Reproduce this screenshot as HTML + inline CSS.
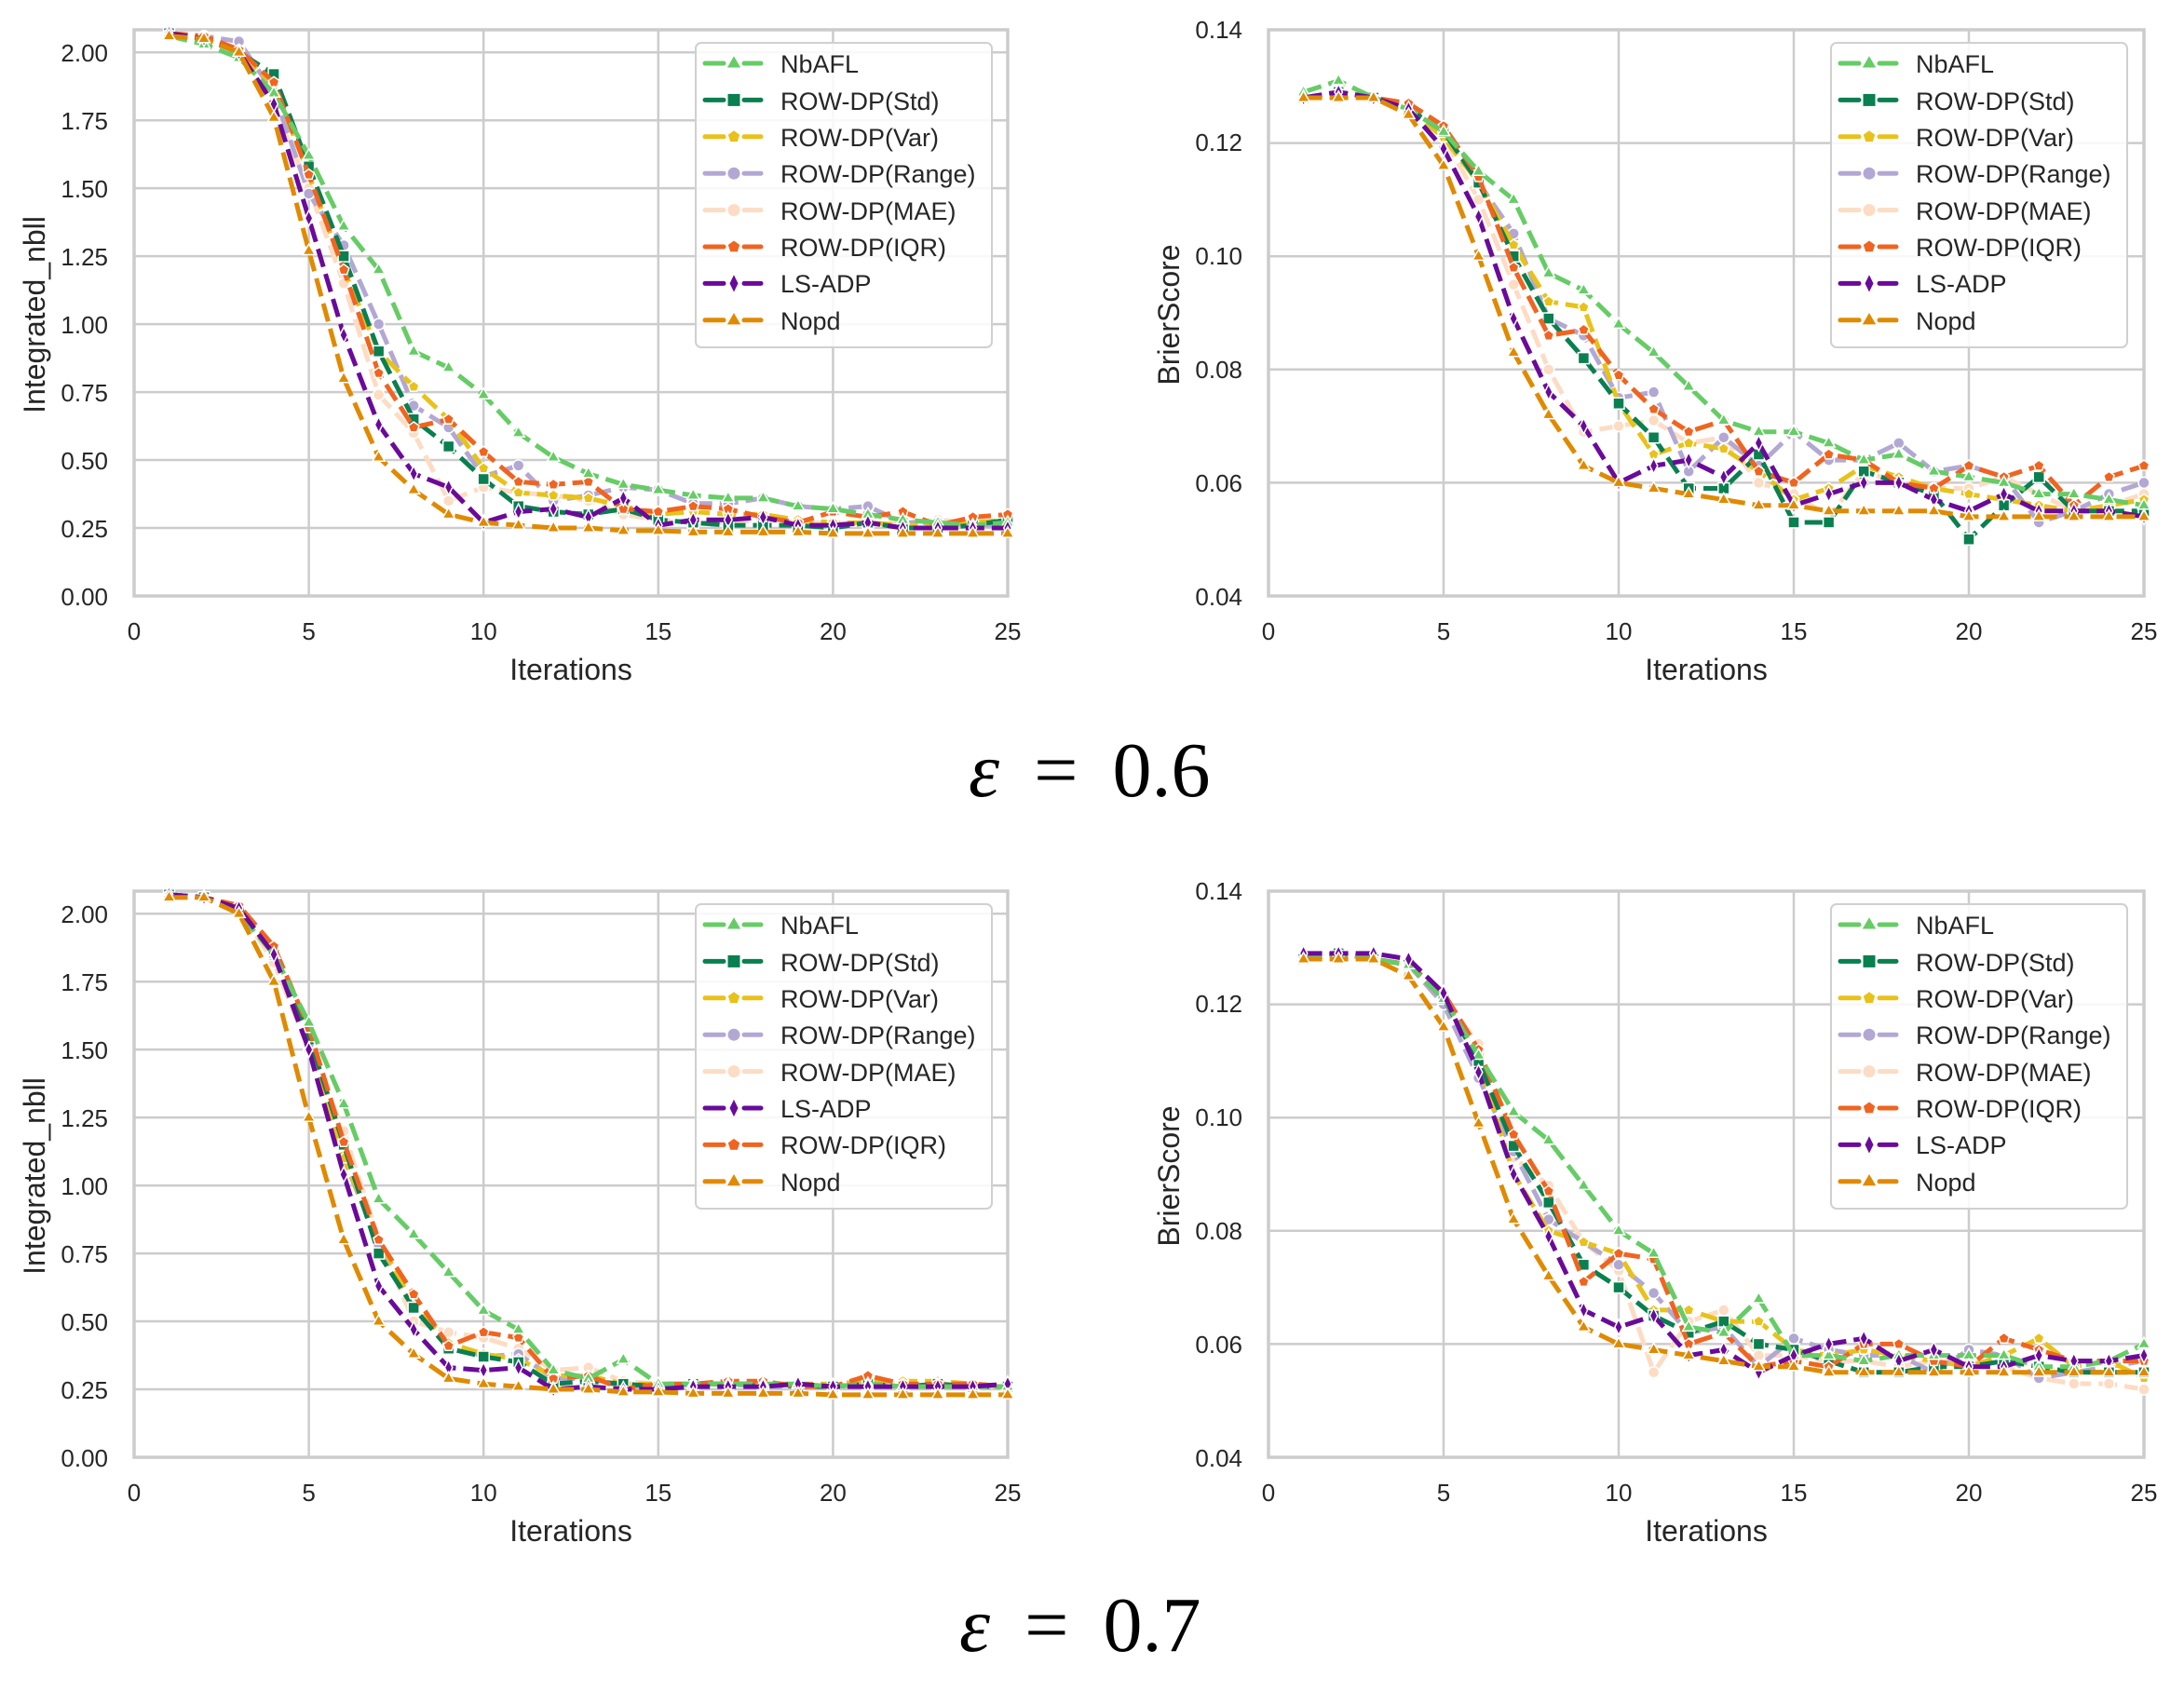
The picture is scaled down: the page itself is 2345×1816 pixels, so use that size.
<!DOCTYPE html>
<html><head><meta charset="utf-8"><style>
html,body{margin:0;padding:0;background:#fff;}
svg{display:block;}
.t{font-family:"Liberation Sans",Arial,sans-serif;fill:#262626;}
.tk{font-size:26px;}
.lg{font-size:27px;}
.al{font-size:32px;}
.eps{font-family:"Liberation Serif","DejaVu Serif",serif;font-size:84px;fill:#000;word-spacing:16px;}
</style></head><body>
<svg id="s" width="2345" height="1816" viewBox="0 0 2345 1816" xmlns="http://www.w3.org/2000/svg">
<rect width="2345" height="1816" fill="#fff"/>
<g id="grids"></g>
<g id="series"></g>
<g id="legends"></g>
<g class="t tk" text-anchor="end">
<text x="116" y="650">0.00</text><text x="116" y="577">0.25</text><text x="116" y="504">0.50</text><text x="116" y="431">0.75</text><text x="116" y="358">1.00</text><text x="116" y="285">1.25</text><text x="116" y="212">1.50</text><text x="116" y="139">1.75</text><text x="116" y="66">2.00</text>
<text x="116" y="1575">0.00</text><text x="116" y="1502">0.25</text><text x="116" y="1429">0.50</text><text x="116" y="1356">0.75</text><text x="116" y="1283">1.00</text><text x="116" y="1210">1.25</text><text x="116" y="1137">1.50</text><text x="116" y="1064">1.75</text><text x="116" y="991">2.00</text>
<text x="1334" y="650">0.04</text><text x="1334" y="528">0.06</text><text x="1334" y="406">0.08</text><text x="1334" y="284">0.10</text><text x="1334" y="162">0.12</text><text x="1334" y="41">0.14</text>
<text x="1334" y="1575">0.04</text><text x="1334" y="1453">0.06</text><text x="1334" y="1331">0.08</text><text x="1334" y="1209">0.10</text><text x="1334" y="1087">0.12</text><text x="1334" y="966">0.14</text>
</g>
<g class="t tk" text-anchor="middle">
<text x="144" y="687">0</text><text x="331.6" y="687">5</text><text x="519.2" y="687">10</text><text x="706.8" y="687">15</text><text x="894.4" y="687">20</text><text x="1082" y="687">25</text>
<text x="1362" y="687">0</text><text x="1550" y="687">5</text><text x="1738" y="687">10</text><text x="1926" y="687">15</text><text x="2114" y="687">20</text><text x="2302" y="687">25</text>
<text x="144" y="1612">0</text><text x="331.6" y="1612">5</text><text x="519.2" y="1612">10</text><text x="706.8" y="1612">15</text><text x="894.4" y="1612">20</text><text x="1082" y="1612">25</text>
<text x="1362" y="1612">0</text><text x="1550" y="1612">5</text><text x="1738" y="1612">10</text><text x="1926" y="1612">15</text><text x="2114" y="1612">20</text><text x="2302" y="1612">25</text>
</g>
<g class="t al" text-anchor="middle">
<text x="613" y="730">Iterations</text><text x="1832" y="730">Iterations</text>
<text x="613" y="1655">Iterations</text><text x="1832" y="1655">Iterations</text>
<text transform="translate(48,338) rotate(-90)">Integrated_nbll</text>
<text transform="translate(1266,338) rotate(-90)">BrierScore</text>
<text transform="translate(48,1263) rotate(-90)">Integrated_nbll</text>
<text transform="translate(1266,1263) rotate(-90)">BrierScore</text>
</g>
<text class="eps" x="1040" y="855"><tspan font-style="italic">ε</tspan> = 0.6</text>
<text class="eps" x="1030" y="1773"><tspan font-style="italic">ε</tspan> = 0.7</text>
<g id="legtext" class="t lg">
<text x="838" y="78">NbAFL</text><text x="838" y="118">ROW-DP(Std)</text><text x="838" y="157">ROW-DP(Var)</text><text x="838" y="196">ROW-DP(Range)</text><text x="838" y="236">ROW-DP(MAE)</text><text x="838" y="275">ROW-DP(IQR)</text><text x="838" y="314">LS-ADP</text><text x="838" y="354">Nopd</text>
<text x="2057" y="78">NbAFL</text><text x="2057" y="118">ROW-DP(Std)</text><text x="2057" y="157">ROW-DP(Var)</text><text x="2057" y="196">ROW-DP(Range)</text><text x="2057" y="236">ROW-DP(MAE)</text><text x="2057" y="275">ROW-DP(IQR)</text><text x="2057" y="314">LS-ADP</text><text x="2057" y="354">Nopd</text>
<text x="838" y="1003">NbAFL</text><text x="838" y="1043">ROW-DP(Std)</text><text x="838" y="1082">ROW-DP(Var)</text><text x="838" y="1121">ROW-DP(Range)</text><text x="838" y="1161">ROW-DP(MAE)</text><text x="838" y="1200">LS-ADP</text><text x="838" y="1239">ROW-DP(IQR)</text><text x="838" y="1279">Nopd</text>
<text x="2057" y="1003">NbAFL</text><text x="2057" y="1043">ROW-DP(Std)</text><text x="2057" y="1082">ROW-DP(Var)</text><text x="2057" y="1121">ROW-DP(Range)</text><text x="2057" y="1161">ROW-DP(MAE)</text><text x="2057" y="1200">ROW-DP(IQR)</text><text x="2057" y="1239">LS-ADP</text><text x="2057" y="1279">Nopd</text>
</g>
</svg>
<script>
(function(){
var NS="http://www.w3.org/2000/svg";
function el(p,n,a){var e=document.createElementNS(NS,n);for(var k in a)e.setAttribute(k,a[k]);p.appendChild(e);return e;}
var C={nb:"#66cc66",std:"#0a7f50",var:"#e8c21a",rng:"#b3a8d3",mae:"#fddcc4",iqr:"#f06420",ls:"#6a0a9a",no:"#e08a00"};
var M={nb:"tri",std:"sq",var:"pent",rng:"circ",mae:"circ",iqr:"pent",ls:"dia",no:"tri"};
var P=[
{x0:144,x1:1082,top:32,bot:640,y0:0,ymax:2.083,yt:[0,.25,.5,.75,1,1.25,1.5,1.75,2],ymin:0,lx:747,ly:46,order:["nb","std","var","rng","mae","iqr","ls","no"],
d:{nb:[2.06,2.03,1.98,1.85,1.62,1.36,1.2,0.9,0.84,0.74,0.6,0.51,0.45,0.41,0.39,0.37,0.36,0.36,0.33,0.32,0.3,0.28,0.27,0.26,0.27],
std:[2.07,2.05,2.0,1.92,1.58,1.25,0.9,0.65,0.55,0.43,0.33,0.31,0.3,0.32,0.28,0.27,0.26,0.26,0.26,0.25,0.27,0.25,0.25,0.26,0.28],
var:[2.07,2.05,2.0,1.88,1.55,1.2,0.9,0.77,0.65,0.47,0.38,0.37,0.36,0.33,0.3,0.31,0.3,0.3,0.28,0.27,0.27,0.26,0.26,0.27,0.28],
rng:[2.07,2.06,2.04,1.85,1.48,1.29,1.0,0.7,0.62,0.44,0.48,0.35,0.37,0.4,0.39,0.34,0.34,0.36,0.33,0.32,0.33,0.27,0.27,0.26,0.26],
mae:[2.07,2.05,2.0,1.8,1.5,1.15,0.74,0.6,0.35,0.4,0.38,0.37,0.35,0.3,0.28,0.27,0.27,0.28,0.27,0.27,0.26,0.27,0.28,0.27,0.27],
iqr:[2.07,2.06,2.01,1.89,1.55,1.2,0.82,0.62,0.65,0.53,0.42,0.41,0.42,0.32,0.31,0.33,0.32,0.29,0.27,0.31,0.29,0.31,0.26,0.29,0.3],
ls:[2.07,2.05,2.0,1.81,1.39,0.96,0.63,0.45,0.4,0.27,0.31,0.32,0.29,0.36,0.26,0.28,0.28,0.29,0.26,0.26,0.27,0.25,0.25,0.25,0.25],
no:[2.06,2.05,2.0,1.76,1.27,0.8,0.51,0.39,0.3,0.27,0.26,0.25,0.25,0.24,0.24,0.235,0.235,0.235,0.235,0.23,0.23,0.23,0.23,0.23,0.23]}},
{x0:1362,x1:2302,top:32,bot:640,ymin:0.04,ymax:0.14,yt:[.04,.06,.08,.1,.12,.14],lx:1966,ly:46,order:["nb","std","var","rng","mae","iqr","ls","no"],
d:{nb:[.129,.131,.128,.126,.122,.115,.110,.097,.094,.088,.083,.077,.071,.069,.069,.067,.064,.065,.062,.061,.060,.058,.058,.057,.056],
std:[.128,.129,.128,.126,.122,.113,.100,.089,.082,.074,.068,.059,.059,.065,.053,.053,.062,.060,.058,.050,.056,.061,.055,.055,.055],
var:[.128,.129,.128,.126,.121,.113,.102,.092,.091,.074,.065,.067,.066,.062,.057,.059,.063,.061,.059,.058,.057,.056,.055,.056,.057],
rng:[.128,.129,.128,.126,.121,.113,.104,.089,.086,.075,.076,.062,.068,.063,.069,.064,.064,.067,.062,.063,.061,.053,.055,.058,.060],
mae:[.128,.129,.128,.126,.121,.110,.095,.080,.069,.070,.071,.067,.068,.060,.058,.054,.062,.060,.059,.059,.061,.058,.055,.056,.058],
iqr:[.128,.129,.128,.127,.123,.114,.098,.086,.087,.079,.073,.069,.071,.062,.060,.065,.064,.060,.059,.063,.061,.063,.056,.061,.063],
ls:[.128,.129,.128,.126,.119,.107,.089,.076,.070,.060,.063,.064,.061,.067,.056,.058,.060,.060,.057,.055,.058,.055,.055,.055,.054],
no:[.128,.128,.128,.125,.116,.100,.083,.072,.063,.060,.059,.058,.057,.056,.056,.055,.055,.055,.055,.054,.054,.054,.054,.054,.054]}},
{x0:144,x1:1082,top:957,bot:1565,ymin:0,ymax:2.083,yt:[0,.25,.5,.75,1,1.25,1.5,1.75,2],lx:747,ly:971,order:["nb","std","var","rng","mae","ls","iqr","no"],
d:{nb:[2.06,2.06,2.0,1.85,1.6,1.3,0.95,0.82,0.68,0.54,0.47,0.32,0.29,0.36,0.27,0.27,0.27,0.27,0.27,0.26,0.27,0.26,0.26,0.26,0.26],
std:[2.07,2.06,2.02,1.85,1.55,1.15,0.75,0.55,0.4,0.37,0.35,0.27,0.28,0.27,0.26,0.27,0.27,0.27,0.26,0.26,0.27,0.26,0.27,0.26,0.26],
var:[2.07,2.06,2.02,1.85,1.55,1.1,0.8,0.56,0.42,0.38,0.36,0.3,0.3,0.27,0.27,0.26,0.27,0.27,0.27,0.27,0.28,0.28,0.28,0.27,0.26],
rng:[2.07,2.06,2.02,1.85,1.52,1.1,0.78,0.56,0.42,0.37,0.38,0.29,0.29,0.26,0.26,0.27,0.27,0.26,0.26,0.26,0.27,0.26,0.26,0.26,0.26],
mae:[2.07,2.06,2.02,1.82,1.5,1.2,0.8,0.5,0.46,0.44,0.4,0.32,0.33,0.28,0.27,0.27,0.27,0.27,0.26,0.26,0.27,0.26,0.26,0.26,0.26],
ls:[2.07,2.06,2.02,1.85,1.5,1.04,0.63,0.47,0.33,0.32,0.33,0.25,0.26,0.25,0.25,0.26,0.26,0.26,0.27,0.26,0.26,0.26,0.26,0.26,0.27],
iqr:[2.07,2.06,2.03,1.88,1.58,1.16,0.8,0.6,0.41,0.46,0.44,0.29,0.3,0.25,0.27,0.27,0.28,0.28,0.26,0.26,0.3,0.27,0.27,0.27,0.26],
no:[2.06,2.06,2.0,1.75,1.25,0.8,0.5,0.38,0.29,0.27,0.26,0.25,0.25,0.24,0.24,0.235,0.235,0.235,0.235,0.23,0.23,0.23,0.23,0.23,0.23]}},
{x0:1362,x1:2302,top:957,bot:1565,ymin:0.04,ymax:0.14,yt:[.04,.06,.08,.1,.12,.14],lx:1966,ly:971,order:["nb","std","var","rng","mae","iqr","ls","no"],
d:{nb:[.128,.129,.128,.127,.121,.111,.101,.096,.088,.080,.076,.063,.062,.068,.058,.058,.057,.058,.058,.058,.058,.056,.056,.057,.060],
std:[.128,.129,.128,.127,.121,.110,.095,.085,.074,.070,.065,.062,.064,.060,.059,.057,.055,.055,.056,.056,.057,.056,.055,.055,.055],
var:[.128,.129,.128,.127,.121,.110,.090,.080,.078,.076,.066,.066,.064,.064,.059,.058,.059,.058,.057,.056,.058,.061,.056,.057,.054],
rng:[.128,.129,.128,.127,.120,.107,.094,.082,.078,.074,.069,.062,.063,.056,.061,.059,.058,.058,.055,.059,.058,.054,.055,.056,.057],
mae:[.128,.129,.128,.127,.121,.113,.093,.088,.078,.073,.055,.064,.066,.058,.058,.057,.057,.056,.057,.057,.056,.054,.053,.053,.052],
iqr:[.128,.129,.128,.127,.122,.112,.097,.087,.071,.076,.075,.060,.062,.056,.057,.056,.060,.060,.057,.056,.061,.059,.057,.057,.057],
ls:[.129,.129,.129,.128,.122,.108,.090,.079,.066,.063,.065,.058,.059,.055,.058,.060,.061,.057,.059,.056,.056,.058,.057,.057,.058],
no:[.128,.128,.128,.125,.116,.099,.082,.072,.063,.060,.059,.058,.057,.056,.056,.055,.055,.055,.055,.055,.055,.055,.055,.055,.055]}}
];
var G=document.getElementById("grids"),S=document.getElementById("series"),L=document.getElementById("legends");
function mk(g,type,x,y,c,r,stroke){
 var a={fill:c,stroke:stroke?"#fff":"none","stroke-width":stroke?1.5:0};
 if(type=="circ"){a.cx=x;a.cy=y;a.r=r;el(g,"circle",a);}
 else if(type=="sq"){a.x=x-r;a.y=y-r;a.width=2*r;a.height=2*r;el(g,"rect",a);}
 else{var pts=[];
  if(type=="tri")pts=[[0,-1.2],[1.1,0.7],[-1.1,0.7]];
  else if(type=="dia")pts=[[0,-1.4],[0.7,0],[0,1.4],[-0.7,0]];
  else{for(var i=0;i<5;i++){var t=-Math.PI/2+i*2*Math.PI/5;pts.push([Math.cos(t),Math.sin(t)]);}}
  a.points=pts.map(function(p){return (x+p[0]*r).toFixed(1)+","+(y+p[1]*r).toFixed(1);}).join(" ");el(g,"polygon",a);}
}
P.forEach(function(p){
 var sx=function(v){return p.x0+(p.x1-p.x0)*v/25;};
 var sy=function(v){return p.bot-(p.bot-p.top)*(v-p.ymin)/(p.ymax-p.ymin);};
 [5,10,15,20].forEach(function(v){el(G,"line",{x1:sx(v),x2:sx(v),y1:p.top,y2:p.bot,stroke:"#cccccc","stroke-width":2.5});});
 p.yt.forEach(function(v){el(G,"line",{x1:p.x0,x2:p.x1,y1:sy(v),y2:sy(v),stroke:"#cccccc","stroke-width":2.5});});
 el(G,"rect",{x:p.x0,y:p.top,width:p.x1-p.x0,height:p.bot-p.top,fill:"none",stroke:"#cccccc","stroke-width":3.5});
 var keys=["mae","rng","var","std","iqr","nb","ls","no"];
 keys.forEach(function(k){
  var d=p.d[k];var pts=d.map(function(v,i){return sx(i+1).toFixed(1)+","+sy(v).toFixed(1);}).join(" ");
  el(S,"polyline",{points:pts,fill:"none",stroke:C[k],"stroke-width":5,"stroke-dasharray":"20,8","stroke-linejoin":"round"});
  d.forEach(function(v,i){mk(S,M[k],sx(i+1),sy(v),C[k],6,true);});
 });
 el(L,"rect",{x:p.lx,y:p.ly,width:318,height:327,rx:6,fill:"#fff","fill-opacity":0.85,stroke:"#d0d0d0","stroke-width":2});
 p.order.forEach(function(k,i){
  var y=p.ly+22+i*39.4;var x=p.lx+10;
  el(L,"line",{x1:x,x2:x+20,y1:y,y2:y,stroke:C[k],"stroke-width":5,"stroke-linecap":"round"});
  el(L,"line",{x1:x+42,x2:x+60,y1:y,y2:y,stroke:C[k],"stroke-width":5,"stroke-linecap":"round"});
  mk(L,M[k],x+31,y,C[k],6.5,false);
 });
});
})();
</script>
</body></html>
